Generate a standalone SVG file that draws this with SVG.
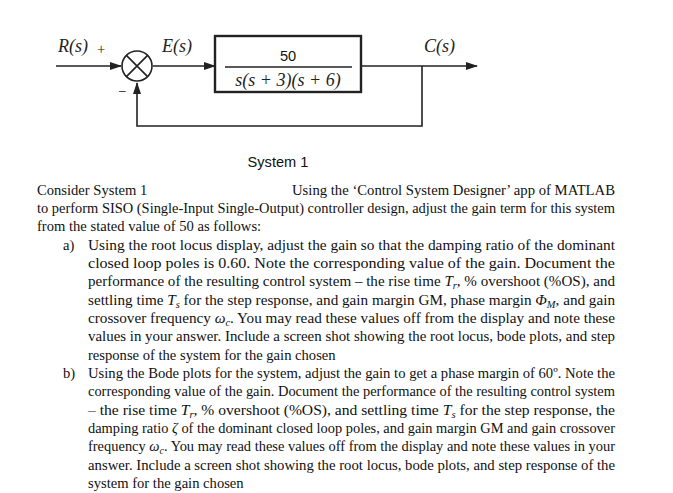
<svg xmlns="http://www.w3.org/2000/svg" width="673" height="493" viewBox="0 0 673 493">
<style>
.l{stroke:#222;stroke-width:1.6;fill:none}
.d{font-family:"Liberation Serif",serif;font-style:italic;font-size:18px;fill:#222}
.t{font-family:"Liberation Serif",serif;font-size:14.6px;fill:#111}
</style>
<defs><marker id="a" markerWidth="12" markerHeight="8" refX="11" refY="4" orient="auto" markerUnits="userSpaceOnUse"><path d="M0,0L12,4L0,8z" fill="#222"/></marker></defs>
<rect width="673" height="493" fill="#fff"/>
<g id="connectors">
<line class="l" x1="56" y1="66" x2="121" y2="66" marker-end="url(#a)"/>
<line class="l" x1="153" y1="66" x2="215" y2="66" marker-end="url(#a)"/>
<line class="l" x1="361" y1="66" x2="477" y2="66" marker-end="url(#a)"/>
<polyline class="l" points="422,66 422,126 137,126 137,83" marker-end="url(#a)"/>
</g>
<g id="sum"><circle class="l" cx="137" cy="66" r="15"/><path class="l" d="M126.4,55.4L147.6,76.6M147.6,55.4L126.4,76.6"/>
<text class="d" x="58" y="52">R(s)</text><text class="t" x="97" y="54" font-size="20">+</text><text class="t" x="118" y="96" font-size="20">−</text></g>
<g id="plant"><rect x="215" y="36" width="146" height="56" fill="none" stroke="#222" stroke-width="2.4"/>
<text class="t" x="288" y="61" text-anchor="middle" font-size="18" style="font-family:'Liberation Sans Narrow','Liberation Sans',sans-serif">50</text>
<line x1="225" y1="67" x2="352" y2="67" stroke="#222" stroke-width="1.4"/>
<text class="d" x="288" y="86" text-anchor="middle">s(s + 3)(s + 6)</text></g>
<text class="d" x="162" y="52">E(s)</text>
<text class="d" x="424" y="52">C(s)</text>
<text class="t" x="278" y="167" text-anchor="middle" font-size="20" style="font-family:'Liberation Sans Narrow','Liberation Sans',sans-serif">System 1</text>
<g class="t">
<text x="37" y="195">Consider System 1</text>
<text x="292" y="195" textLength="323" lengthAdjust="spacingAndGlyphs">Using the ‘Control System Designer’ app of MATLAB</text>
<text x="37" y="213" textLength="578" lengthAdjust="spacingAndGlyphs">to perform SISO (Single-Input Single-Output) controller design, adjust the gain term for this system</text>
<text x="37" y="231">from the stated value of 50 as follows:</text>
<text x="63" y="250">a)</text>
<text x="88" y="250" textLength="527" lengthAdjust="spacingAndGlyphs">Using the root locus display, adjust the gain so that the damping ratio of the dominant</text>
<text x="88" y="268" textLength="527" lengthAdjust="spacingAndGlyphs">closed loop poles is 0.60. Note the corresponding value of the gain. Document the</text>
<text x="88" y="286" textLength="527" lengthAdjust="spacingAndGlyphs">performance of the resulting control system – the rise time <tspan font-style="italic">T<tspan font-size="10" dy="3">r</tspan></tspan><tspan dy="-3">, % overshoot (%OS), and</tspan></text>
<text x="88" y="305" textLength="527" lengthAdjust="spacingAndGlyphs">settling time <tspan font-style="italic">T<tspan font-size="10" dy="3">s</tspan></tspan><tspan dy="-3"> for the step response, and gain margin GM, phase margin </tspan><tspan font-style="italic">Φ<tspan font-size="10" dy="3">M</tspan></tspan><tspan dy="-3">, and gain</tspan></text>
<text x="88" y="323" textLength="527" lengthAdjust="spacingAndGlyphs">crossover frequency <tspan font-style="italic">ω<tspan font-size="10" dy="3">c</tspan></tspan><tspan dy="-3">. You may read these values off from the display and note these</tspan></text>
<text x="88" y="341" textLength="527" lengthAdjust="spacingAndGlyphs">values in your answer. Include a screen shot showing the root locus, bode plots, and step</text>
<text x="88" y="360">response of the system for the gain chosen</text>
<text x="63" y="378">b)</text>
<text x="88" y="378" textLength="527" lengthAdjust="spacingAndGlyphs">Using the Bode plots for the system, adjust the gain to get a phase margin of 60º. Note the</text>
<text x="88" y="396" textLength="527" lengthAdjust="spacingAndGlyphs">corresponding value of the gain. Document the performance of the resulting control system</text>
<text x="88" y="415" textLength="527" lengthAdjust="spacingAndGlyphs">– the rise time <tspan font-style="italic">T<tspan font-size="10" dy="3">r</tspan></tspan><tspan dy="-3">, % overshoot (%OS), and settling time </tspan><tspan font-style="italic">T<tspan font-size="10" dy="3">s</tspan></tspan><tspan dy="-3"> for the step response, the</tspan></text>
<text x="88" y="433" textLength="527" lengthAdjust="spacingAndGlyphs">damping ratio <tspan font-style="italic">ζ</tspan> of the dominant closed loop poles, and gain margin GM and gain crossover</text>
<text x="88" y="451" textLength="527" lengthAdjust="spacingAndGlyphs">frequency <tspan font-style="italic">ω<tspan font-size="10" dy="3">c</tspan></tspan><tspan dy="-3">. You may read these values off from the display and note these values in your</tspan></text>
<text x="88" y="470" textLength="527" lengthAdjust="spacingAndGlyphs">answer. Include a screen shot showing the root locus, bode plots, and step response of the</text>
<text x="88" y="488">system for the gain chosen</text>
</g>
</svg>
